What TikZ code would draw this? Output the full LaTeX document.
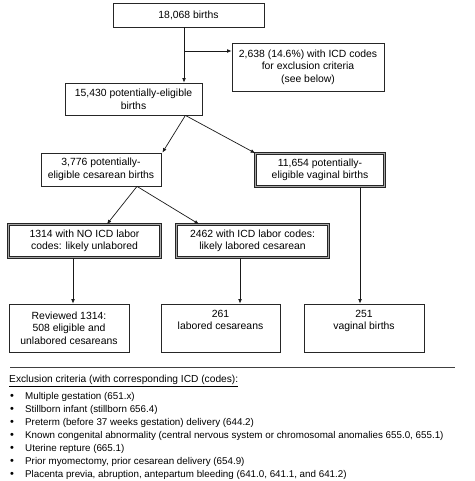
\documentclass[tikz,border=0pt]{standalone}
\usepackage{fontspec}
\setmainfont{Liberation Sans}
\usetikzlibrary{arrows.meta,calc}
\begin{document}
\begin{tikzpicture}[x=1pt,y=-1pt,
  every node/.style={font=\fontsize{10.4}{12.6}\selectfont, inner sep=0pt, align=center},
  box/.style={draw=black!85, line width=0.8pt, rectangle},
  dbox/.style={draw=black!85, line width=0.7pt, double=black!35, double distance=0.9pt, rectangle},
  arr/.style={draw=black!90, line width=0.7pt, -{Latex[length=4.5pt,width=3.8pt]}},
  ln/.style={draw=black!90, line width=0.7pt},
  item/.style={anchor=west, font=\fontsize{9.8}{11}\selectfont}]
\useasboundingbox (0,0) rectangle (474,481);
\node[box, minimum width=151pt, minimum height=24pt] (b1) at (188.5,15) {18,068 births};
\node[box, minimum width=152pt, minimum height=48pt] (b2) at (308,67) {2,638 (14.6\%) with ICD codes\\for exclusion criteria\\(see below)};
\node[box, minimum width=137pt, minimum height=32pt] (b3) at (133.5,99) {15,430 potentially-eligible\\births};
\node[box, minimum width=120pt, minimum height=33pt] (b4) at (101,169.5) {3,776 potentially-\\eligible cesarean births};
\node[dbox, minimum width=129pt, minimum height=33pt] (b5) at (320,170) {11,654 potentially-\\eligible vaginal births};
\node[dbox, minimum width=152pt, minimum height=33pt] (b6) at (84.5,241) {1314 with NO ICD labor\\codes: likely unlabored};
\node[dbox, minimum width=152pt, minimum height=33pt] (b7) at (252.5,241) {2462 with ICD labor codes:\\likely labored cesarean};
\node[box, minimum width=120pt, minimum height=48pt] (b8) at (69,328) {Reviewed 1314:\\508 eligible and\\unlabored cesareans};
\node[box, minimum width=119pt, minimum height=48pt] (b9) at (220.5,328) {261\\labored cesareans\\\strut};
\node[box, minimum width=120pt, minimum height=48pt] (b10) at (364,328) {251\\vaginal births\\\strut};
% connectors
\coordinate (j) at (184,51);
\draw[arr] (b1.south -| j) -- (b3.north -| j);
\draw[arr] (j) -- (b2.west |- j);
\coordinate (s3) at ($(b3.south east)+(-17,0)$);
\draw[arr] (s3) -- ($(b4.north east)+(1,0)$);
\draw[arr] (s3) -- ($(b5.north west)+(0,0)$);
\coordinate (s4) at ($(b4.south)+(36,0)$);
\draw[arr] (s4) -- ($(b6.north)+(22.5,0)$);
\draw[arr] (s4) -- ($(b7.north)+(-53.5,0)$);
\coordinate (c6) at (73,0);
\coordinate (c7) at (240,0);
\coordinate (c5) at (360,0);
\draw[arr] (b6.south -| c6) -- (b8.north -| c6);
\draw[arr] (b7.south -| c7) -- (b9.north -| c7);
\draw[arr] (b5.south -| c5) -- (b10.north -| c5);
% rule
\coordinate (r1) at (10,367);
\coordinate (r2) at (455,367);
\draw[ln, draw=black!75] (r1) -- (r2);
\node[item, font=\fontsize{10.2}{11}\selectfont] (hd) at (9,381) {\underline{Exclusion criteria (with corresponding ICD (codes):}};
\foreach \t [count=\i from 0] in {Multiple gestation (651.x),Stillborn infant (stillborn 656.4),Preterm (before 37 weeks gestation) delivery (644.2),{Known congenital abnormality (central nervous system or chromosomal anomalies 655.0, 655.1)},Uterine repture (665.1),{Prior myomectomy, prior cesarean delivery (654.9)},{Placenta previa, abruption, antepartum bleeding (641.0, 641.1, and 641.2)}}{
  \node[item, font=\fontsize{11}{11}\selectfont] (bu\i) at (10,397+13*\i) {\textbullet};
  \node[item] (it\i) at (25,397+13*\i) {\t};
}
\end{tikzpicture}
\end{document}
